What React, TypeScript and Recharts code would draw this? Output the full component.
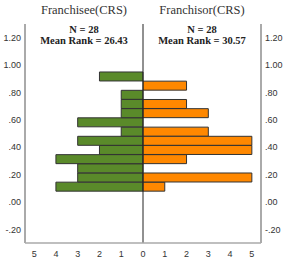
import React from 'react';
import {
  BarChart,
  Bar,
  XAxis,
  YAxis,
  ReferenceLine,
} from 'recharts';

// bin midpoints (CRS value), bottom to top
const bins = [0.111, 0.178, 0.245, 0.312, 0.379, 0.446, 0.513, 0.581, 0.648, 0.715, 0.782, 0.849, 0.916];
// frequencies per bin
const franchisee = [4, 3, 3, 4, 2, 3, 1, 3, 1, 1, 1, 0, 2];
const franchisor = [1, 5, 0, 2, 5, 5, 3, 0, 3, 2, 0, 2, 0];

const yTicks = [-0.2, 0, 0.2, 0.4, 0.6, 0.8, 1.0, 1.2];
const xTicks = [-5, -4, -3, -2, -1, 0, 1, 2, 3, 4, 5];
const xMax = 5.42;

const groups = [
  { name: 'Franchisee(CRS)', n: 28, meanRank: '26.43', x: 84 },
  { name: 'Franchisor(CRS)', n: 28, meanRank: '30.57', x: 202 },
];

// SPSS style: ".80", "-.20", "1.20"
const fmtY = (v: number) => v.toFixed(2).replace(/^(-?)0\./, '$1.');

const data = bins.map((b, i) => ({
  bin: b,
  left: -franchisee[i],
  right: franchisor[i],
}));

const serif = '"Liberation Serif", "DejaVu Serif", serif';
const sans = '"Liberation Sans", Arial, sans-serif';

export default function App() {
  return (
    <div style={{ position: 'fixed', left: 0, top: 0, width: 283, height: 261, background: '#fff' }}>
      <BarChart
        width={283}
        height={261}
        data={data}
        layout="vertical"
        stackOffset="sign"
        barCategoryGap={0}
        margin={{ top: 24, right: 0, bottom: 0, left: 0 }}
      >
        <XAxis
          type="number"
          domain={[-xMax, xMax]}
          ticks={xTicks}
          allowDataOverflow
          tickFormatter={(v: number) => String(Math.abs(v))}
          tick={{ fill: '#333', fontSize: 9, fontFamily: sans }}
          tickLine={false}
          axisLine={{ stroke: '#aaa', strokeWidth: 1.5 }}
          height={18}
        />
        <YAxis
          yAxisId="left"
          type="number"
          dataKey="bin"
          reversed
          domain={[-0.3, 1.3]}
          ticks={yTicks}
          allowDataOverflow
          tickFormatter={fmtY}
          tick={{ fill: '#333', fontSize: 9, fontFamily: sans }}
          tickLine={false}
          tickSize={2}
          tickMargin={2}
          axisLine={{ stroke: '#aaa', strokeWidth: 2 }}
          width={25}
        />
        <YAxis
          yAxisId="right"
          orientation="right"
          type="number"
          dataKey="bin"
          reversed
          domain={[-0.3, 1.3]}
          ticks={yTicks}
          allowDataOverflow
          tickFormatter={fmtY}
          tick={{ fill: '#333', fontSize: 9, fontFamily: sans, textAnchor: 'start' }}
          tickLine={false}
          tickSize={2}
          tickMargin={2}
          axisLine={{ stroke: '#aaa', strokeWidth: 2 }}
          width={22}
        />
        <Bar
          yAxisId="left"
          dataKey="left"
          stackId="s"
          fill="#5a8a2a"
          stroke="#333"
          strokeWidth={1}
          isAnimationActive={false}
        />
        <Bar
          yAxisId="left"
          dataKey="right"
          stackId="s"
          fill="#ff8800"
          stroke="#333"
          strokeWidth={1}
          isAnimationActive={false}
        />
        <ReferenceLine yAxisId="left" x={0} stroke="#222" strokeWidth={1} />
        {groups.map((g) => (
          <g key={g.name}>
            <text x={g.x} y={14} textAnchor="middle" fontFamily={serif} fontSize={12.5} fill="#333">
              {g.name}
            </text>
            <text x={g.x} y={33} textAnchor="middle" fontFamily={serif} fontSize={10.5} fontWeight="bold" fill="#222">
              {`N = ${g.n}`}
            </text>
            <text x={g.x} y={44} textAnchor="middle" fontFamily={serif} fontSize={10.5} fontWeight="bold" fill="#222">
              {`Mean Rank = ${g.meanRank}`}
            </text>
          </g>
        ))}
      </BarChart>
    </div>
  );
}
